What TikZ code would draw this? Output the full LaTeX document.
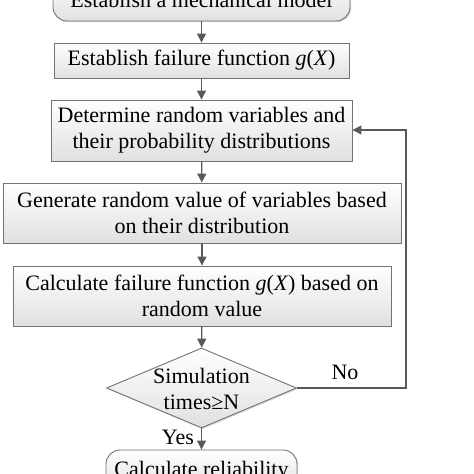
\documentclass[tikz,border=0pt]{standalone}
\usepackage{fontspec}
\setmainfont{Liberation Serif}
\usetikzlibrary{arrows.meta,shapes.geometric,shadows}
\begin{document}
\begin{tikzpicture}[x=1pt,y=-1pt,
  every node/.style={font=\fontsize{22}{26}\selectfont},
  boxbase/.style={draw=black!55,line width=0.9pt,top color=white,bottom color=black!12,
     align=center,inner sep=0pt,
     drop shadow={shadow xshift=1.2pt,shadow yshift=-1.2pt,opacity=0.25,fill=black!60}},
  procbox/.style={boxbase},
  termbox/.style={boxbase,rounded corners=14pt},
  decbox/.style={boxbase,diamond,shape aspect=2.4},
  flow/.style={draw=black!65,line width=1.2pt,-{Triangle[length=9pt,width=9pt]}},
  lbl/.style={inner sep=0pt,align=center}
]
\useasboundingbox (0,0) rectangle (474,474);
\node[termbox,minimum width=297pt,minimum height=43pt] (n1) at (201.5,-0.5) {Establish a mechanical model};
\node[procbox,minimum width=295pt,minimum height=35pt] (n2) at (201.5,60.5) {Establish failure function \textit{g}(\textit{X})};
\node[procbox,minimum width=301pt,minimum height=61pt] (n3) at (201.5,130.5) {Determine random variables and\\their probability distributions};
\node[procbox,minimum width=398pt,minimum height=60pt] (n4) at (202,213) {Generate random value of variables based\\on their distribution};
\node[procbox,minimum width=378pt,minimum height=60pt] (n5) at (202,296) {Calculate failure function \textit{g}(\textit{X}) based on\\random value};
\node[decbox,minimum width=190pt,minimum height=80pt] (d) at (201.5,388) {};
\node[lbl] (dt) at (201.5,389) {Simulation\\times≥N};
\node[termbox,minimum width=191pt,minimum height=43pt] (n6) at (201.5,471.5) {Calculate reliability};
\coordinate (c1) at (406,388);
\coordinate (c2) at (406,130);
\draw[flow] (n1) -- (n2);
\draw[flow] (n2) -- (n3);
\draw[flow] (n3) -- (n4);
\draw[flow] (n4) -- (n5);
\draw[flow] (n5) -- (d);
\draw[flow] (d) -- (n6);
\draw[flow] (d.east) -- (c1) -- (c2) -- (n3.east |- c2);
\node[lbl] (no) at (345,372) {No};
\node[lbl] (yes) at (178,437) {Yes};
\end{tikzpicture}
\end{document}
